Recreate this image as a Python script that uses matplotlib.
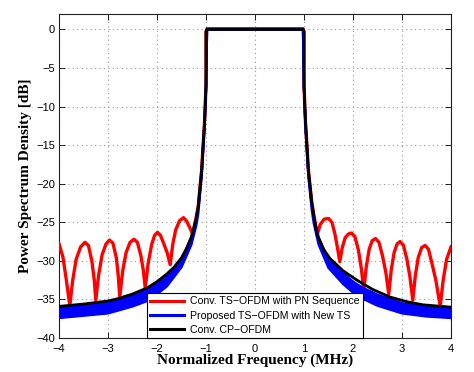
import matplotlib
matplotlib.use("Agg")
import matplotlib.pyplot as plt
from matplotlib.lines import Line2D

# ---------------- data ----------------
cp_x = [-4.0, -3.5, -3.0, -2.8, -2.5, -2.2, -2.0, -1.8, -1.65, -1.5, -1.4, -1.3,
        -1.2, -1.16, -1.09, -1.03, -1.0, -1.0, -0.98,
        0.98, 1.0, 1.0, 1.03, 1.09, 1.16, 1.2, 1.26, 1.4, 1.53, 1.8, 2.08, 2.4,
        2.76, 3.1, 3.43, 4.0]
cp_y = [-35.9, -35.6, -35.2, -34.9, -34.3, -33.5, -32.7, -31.7, -30.8, -29.6, -28.4, -26.9,
        -24.5, -23.0, -18.3, -12.0, -7.3, -0.3, 0.0,
        0.0, -0.3, -7.3, -12.0, -18.3, -22.5, -24.2, -26.5, -28.5, -29.7, -31.3, -32.5, -33.7,
        -34.7, -35.3, -35.7, -36.0]

blue_x = [-4.0, -3.5, -3.0, -2.5, -2.2, -2.0, -1.8, -1.5, -1.3, -1.2, -1.16, -1.09,
          -1.03, -1.0, -0.98, 0.98, 1.0, 1.03, 1.09, 1.16, 1.2, 1.3, 1.5, 1.8, 2.0,
          2.2, 2.5, 3.0, 3.5, 4.0]
blue_hi = [-36.1, -35.8, -35.4, -34.5, -33.7, -32.9, -31.9, -29.8, -27.1, -24.7, -23.2, -18.5,
           -12.2, -7.4, 0.0, 0.0, -7.4, -12.2, -18.5, -22.7, -24.4, -27.0, -29.9, -31.6, -32.7,
           -33.5, -34.4, -35.5, -35.9, -36.2]
blue_lo = [-37.4, -37.1, -36.8, -35.9, -35.2, -34.3, -33.3, -30.8, -27.9, -25.4, -23.9, -19.0,
           -12.5, -7.5, 0.0, 0.0, -7.5, -12.5, -19.0, -23.4, -25.1, -27.9, -30.9, -33.0, -34.1,
           -34.9, -35.8, -36.8, -37.2, -37.4]

pn_x = [-4.0, -3.92, -3.85, -3.78,
        -3.72, -3.65, -3.56, -3.47, -3.40, -3.33, -3.28, -3.25,
        -3.19, -3.12, -3.04, -2.97, -2.90, -2.83, -2.79, -2.76,
        -2.70, -2.63, -2.55, -2.47, -2.40, -2.33, -2.28, -2.24,
        -2.18, -2.11, -2.05, -1.99, -1.93, -1.86, -1.79, -1.73,
        -1.68, -1.62, -1.54, -1.46, -1.40, -1.33, -1.27,
        -1.16, -1.09, -1.03, -1.0, -1.0, -0.98, 0.98, 1.0, 1.0, 1.03, 1.09, 1.16,
        1.27, 1.33, 1.41, 1.50, 1.57, 1.63, 1.68, 1.73,
        1.78, 1.84, 1.91, 1.97, 2.04, 2.11, 2.17, 2.22,
        2.27, 2.33, 2.39, 2.46, 2.53, 2.60, 2.67, 2.73,
        2.78, 2.84, 2.90, 2.96, 3.03, 3.10, 3.16, 3.22,
        3.27, 3.33, 3.40, 3.47, 3.54, 3.61, 3.69, 3.78,
        3.84, 3.91, 4.0]
pn_y = [-27.8, -29.5, -32.5, -35.8,
        -32.5, -29.8, -28.2, -27.6, -28.0, -30.0, -32.5, -35.1,
        -31.8, -29.2, -27.8, -27.3, -27.7, -29.6, -32.0, -34.7,
        -31.3, -28.9, -27.6, -27.2, -27.6, -29.3, -31.2, -33.5,
        -30.3, -27.9, -26.7, -26.3, -26.7, -27.8, -29.0, -30.5,
        -27.9, -26.0, -24.8, -24.4, -24.8, -25.7, -26.6,
        -23.0, -18.3, -12.0, -7.3, -0.3, 0.1, 0.1, -0.3, -7.3, -12.0, -18.3, -22.5,
        -26.6, -25.3, -24.6, -24.5, -25.0, -26.5, -28.2, -30.1,
        -28.3, -27.0, -26.5, -26.4, -26.9, -28.6, -31.0, -33.8,
        -30.8, -28.5, -27.4, -27.1, -27.6, -29.3, -31.5, -34.3,
        -31.2, -28.9, -27.8, -27.5, -28.0, -29.8, -32.0, -35.1,
        -32.0, -29.6, -28.3, -28.0, -28.5, -30.3, -32.5, -35.9,
        -32.5, -29.8, -28.2]

labels = ["Conv. TS\u2212OFDM with PN Sequence",
          "Proposed TS\u2212OFDM with New TS",
          "Conv. CP\u2212OFDM"]
x_ticks = [-4, -3, -2, -1, 0, 1, 2, 3, 4]
y_ticks = [0, -5, -10, -15, -20, -25, -30, -35, -40]

# ---------------- figure ----------------
plt.rcParams['font.family'] = ['Liberation Sans', 'DejaVu Sans']
fig = plt.figure(figsize=(4.74, 3.72), dpi=100)
ax = fig.add_axes([0.1245, 0.0914, 0.827, 0.871])

ax.plot(pn_x, pn_y, color='#ff0000', lw=2.4, solid_joinstyle='round', zorder=3)
ax.fill_between(blue_x, blue_lo, blue_hi, color='#0000ff', lw=0, zorder=4)
ax.plot(blue_x, blue_lo, color='#0000ff', lw=1.8, zorder=4)
ax.plot(blue_x, blue_hi, color='#0000ff', lw=1.8, zorder=4)
ax.plot(cp_x, cp_y, color='black', lw=2.0, solid_joinstyle='round', zorder=5)

ax.set_xlim(-4, 4)
ax.set_ylim(-40, 2)
ax.set_xticks(x_ticks)
ax.set_yticks(y_ticks)
ax.set_xticklabels([str(t).replace('-', '\u2212') for t in x_ticks])
ax.set_yticklabels([str(t).replace('-', '\u2212') for t in y_ticks])
ax.tick_params(direction='in', top=True, right=True, length=4, width=0.6,
               labelsize=8, colors='black')
ax.tick_params(axis='x', pad=4)
ax.tick_params(axis='y', pad=3)
ax.grid(True, linestyle=(0, (1, 3)), color='#999999', lw=0.8)
for s in ax.spines.values():
    s.set_linewidth(0.8)
    s.set_color('#222222')

ax.set_xlabel("Normalized Frequency (MHz)", family='Liberation Serif',
              fontweight='bold', fontsize=11, labelpad=0)
ax.set_ylabel("Power Spectrum Density [dB]", family='Liberation Serif',
              fontweight='bold', fontsize=11, labelpad=3)

handles = [Line2D([], [], color='#ff0000', lw=2.2),
           Line2D([], [], color='#0000ff', lw=2.2),
           Line2D([], [], color='black', lw=2.2)]
leg = ax.legend(handles, labels, loc='lower left', bbox_to_anchor=(0.224, 0.0),
                borderaxespad=0, fontsize=7.6, fancybox=False, framealpha=1,
                edgecolor='black', handlelength=3.2, handletextpad=0.6,
                labelspacing=0.4, borderpad=0.3)
leg.get_frame().set_linewidth(0.8)
leg.set_zorder(10)

fig.savefig("out.png", dpi=100)
